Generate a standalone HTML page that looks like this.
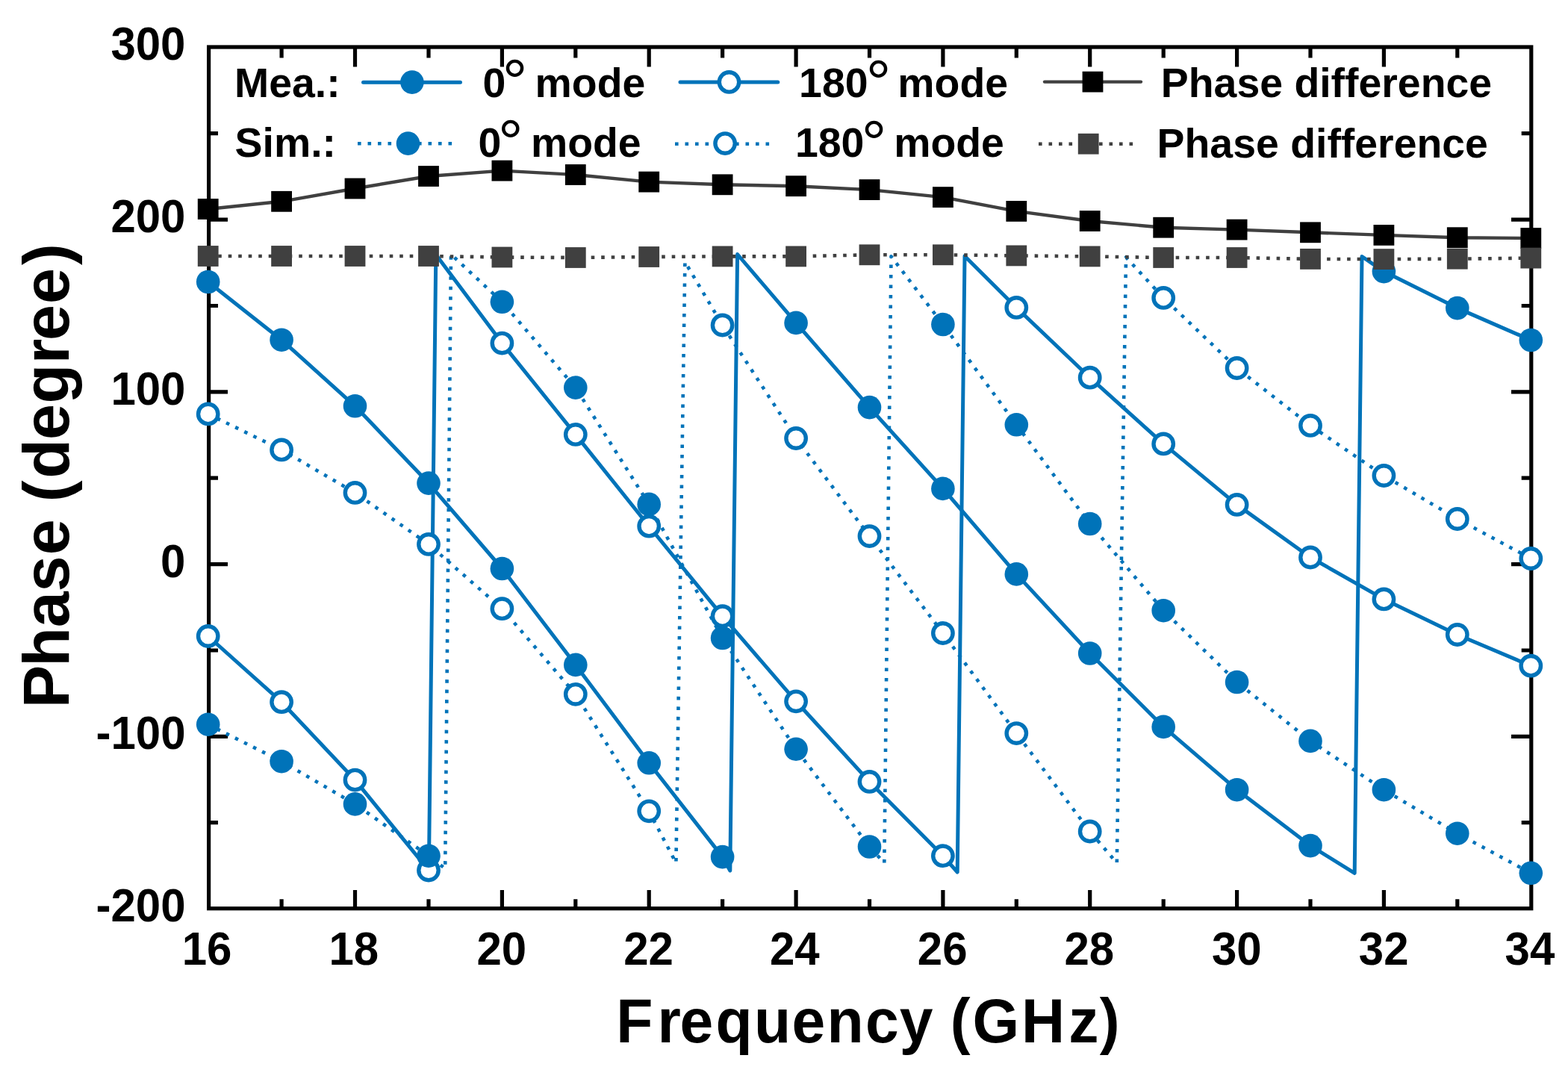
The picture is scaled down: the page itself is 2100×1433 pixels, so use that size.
<!DOCTYPE html>
<html><head><meta charset="utf-8"><title>Phase vs Frequency</title>
<style>html,body{margin:0;padding:0;background:#fff;width:2100px;height:1433px;overflow:hidden}svg{display:block}text{font-variant-ligatures:none}</style>
</head><body>
<svg width="2100" height="1433" viewBox="0 0 2100 1433">
<rect width="2100" height="1433" fill="#fff"/>
<g stroke="#000" stroke-width="5.2" fill="none" stroke-linecap="square">
<rect x="279.6" y="63.0" width="1771.2" height="1153.7" stroke-linejoin="miter"/>
</g>
<path d="M377.1,63.0 V77.4 M377.1,1216.7 V1204.3 M475.5,63.0 V89.5 M475.5,1216.7 V1192.1 M574.0,63.0 V77.4 M574.0,1216.7 V1204.3 M672.4,63.0 V89.5 M672.4,1216.7 V1192.1 M770.8,63.0 V77.4 M770.8,1216.7 V1204.3 M869.2,63.0 V89.5 M869.2,1216.7 V1192.1 M967.6,63.0 V77.4 M967.6,1216.7 V1204.3 M1066.1,63.0 V89.5 M1066.1,1216.7 V1192.1 M1164.5,63.0 V77.4 M1164.5,1216.7 V1204.3 M1262.9,63.0 V89.5 M1262.9,1216.7 V1192.1 M1361.3,63.0 V77.4 M1361.3,1216.7 V1204.3 M1459.7,63.0 V89.5 M1459.7,1216.7 V1192.1 M1558.2,63.0 V77.4 M1558.2,1216.7 V1204.3 M1656.6,63.0 V89.5 M1656.6,1216.7 V1192.1 M1755.0,63.0 V77.4 M1755.0,1216.7 V1204.3 M1853.4,63.0 V89.5 M1853.4,1216.7 V1192.1 M1951.8,63.0 V77.4 M1951.8,1216.7 V1204.3 M279.6,1101.7 H292.0 M2050.8,1101.7 H2037.7 M279.6,986.4 H305.0 M2050.8,986.4 H2024.0 M279.6,871.0 H292.0 M2050.8,871.0 H2037.7 M279.6,755.6 H305.0 M2050.8,755.6 H2024.0 M279.6,640.2 H292.0 M2050.8,640.2 H2037.7 M279.6,524.9 H305.0 M2050.8,524.9 H2024.0 M279.6,409.5 H292.0 M2050.8,409.5 H2037.7 M279.6,294.1 H305.0 M2050.8,294.1 H2024.0 M279.6,178.7 H292.0 M2050.8,178.7 H2037.7" stroke="#000" stroke-width="5.2" fill="none"/>
<g fill="none" stroke-linejoin="round">
<path d="M278.7,377.5 L377.1,455.2 L475.5,543.8 L574.0,647.1 L672.4,761.5 L770.8,890.4 L869.2,1021.8 L967.6,1147.6 L977.8,1166.0 L987.6,340.5 L1066.1,432.4 L1164.5,545.6 L1262.9,654.4 L1361.3,768.9 L1459.7,875.0 L1558.2,973.4 L1656.6,1057.7 L1755.0,1132.6 L1814.2,1169.3 L1824.0,343.5 L1853.4,363.6 L1951.8,412.6 L2050.3,455.5" stroke="#0073B9" stroke-width="5.0"/>
<path d="M278.7,852.0 L377.1,940.2 L475.5,1044.6 L574.0,1165.5 L574.3,1170.0 L583.8,341.0 L672.4,459.6 L770.8,581.9 L869.2,704.7 L967.6,825.2 L1066.1,939.3 L1164.5,1046.9 L1262.9,1146.2 L1282.2,1168.0 L1292.0,343.0 L1361.3,411.9 L1459.7,505.7 L1558.2,594.4 L1656.6,675.9 L1755.0,746.5 L1853.4,802.4 L1951.8,850.0 L2050.3,891.7" stroke="#0073B9" stroke-width="5.0"/>
<path d="M278.7,970.2 L377.1,1019.7 L475.5,1076.9 L574.0,1146.2 L596.2,1163.3 L604.0,340.6 L672.4,404.3 L770.8,519.1 L869.2,675.4 L967.6,854.5 L1066.1,1003.3 L1164.5,1134.0 L1184.3,1155.7 L1193.5,343.4 L1262.9,434.5 L1361.3,568.8 L1459.7,701.5 L1558.2,817.7 L1656.6,913.5 L1755.0,992.4 L1853.4,1057.7 L1951.8,1116.2 L2050.3,1169.3" stroke="#0073B9" stroke-width="4.6" stroke-dasharray="4.6 8.9"/>
<path d="M278.7,554.4 L377.1,602.4 L475.5,659.9 L574.0,728.9 L672.4,815.2 L770.8,929.8 L869.2,1086.3 L905.4,1155.7 L917.4,350.8 L967.6,435.5 L1066.1,587.0 L1164.5,718.1 L1262.9,848.0 L1361.3,982.1 L1459.7,1113.5 L1495.8,1155.7 L1508.0,344.5 L1558.2,398.9 L1656.6,493.0 L1755.0,569.9 L1853.4,637.0 L1951.8,695.0 L2050.3,748.0" stroke="#0073B9" stroke-width="4.6" stroke-dasharray="4.6 8.9"/>
<path d="M278.7,280.0 L377.1,269.8 L475.5,252.5 L574.0,236.0 L672.4,228.6 L770.8,234.0 L869.2,243.6 L967.6,247.3 L1066.1,249.2 L1164.5,254.1 L1262.9,264.1 L1361.3,282.9 L1459.7,296.0 L1558.2,304.7 L1656.6,307.6 L1755.0,311.3 L1853.4,314.9 L1951.8,318.2 L2050.3,319.0" stroke="#404040" stroke-width="4.4"/>
<path d="M278.7,343.0 L377.1,343.0 L475.5,343.0 L574.0,343.0 L672.4,344.5 L770.8,345.0 L869.2,344.0 L967.6,343.4 L1066.1,343.4 L1164.5,341.3 L1262.9,341.3 L1361.3,342.4 L1459.7,343.4 L1558.2,345.0 L1656.6,345.0 L1755.0,346.9 L1853.4,347.1 L1951.8,346.7 L2050.3,345.6" stroke="#404040" stroke-width="4.6" stroke-dasharray="4.6 8.9"/>
</g>
<circle cx="278.7" cy="852.0" r="13.2" fill="#fff" stroke="#0073B9" stroke-width="5.4"/>
<circle cx="377.1" cy="940.2" r="13.2" fill="#fff" stroke="#0073B9" stroke-width="5.4"/>
<circle cx="475.5" cy="1044.6" r="13.2" fill="#fff" stroke="#0073B9" stroke-width="5.4"/>
<circle cx="574.0" cy="1165.5" r="13.2" fill="#fff" stroke="#0073B9" stroke-width="5.4"/>
<circle cx="672.4" cy="459.6" r="13.2" fill="#fff" stroke="#0073B9" stroke-width="5.4"/>
<circle cx="770.8" cy="581.9" r="13.2" fill="#fff" stroke="#0073B9" stroke-width="5.4"/>
<circle cx="869.2" cy="704.7" r="13.2" fill="#fff" stroke="#0073B9" stroke-width="5.4"/>
<circle cx="967.6" cy="825.2" r="13.2" fill="#fff" stroke="#0073B9" stroke-width="5.4"/>
<circle cx="1066.1" cy="939.3" r="13.2" fill="#fff" stroke="#0073B9" stroke-width="5.4"/>
<circle cx="1164.5" cy="1046.9" r="13.2" fill="#fff" stroke="#0073B9" stroke-width="5.4"/>
<circle cx="1262.9" cy="1146.2" r="13.2" fill="#fff" stroke="#0073B9" stroke-width="5.4"/>
<circle cx="1361.3" cy="411.9" r="13.2" fill="#fff" stroke="#0073B9" stroke-width="5.4"/>
<circle cx="1459.7" cy="505.7" r="13.2" fill="#fff" stroke="#0073B9" stroke-width="5.4"/>
<circle cx="1558.2" cy="594.4" r="13.2" fill="#fff" stroke="#0073B9" stroke-width="5.4"/>
<circle cx="1656.6" cy="675.9" r="13.2" fill="#fff" stroke="#0073B9" stroke-width="5.4"/>
<circle cx="1755.0" cy="746.5" r="13.2" fill="#fff" stroke="#0073B9" stroke-width="5.4"/>
<circle cx="1853.4" cy="802.4" r="13.2" fill="#fff" stroke="#0073B9" stroke-width="5.4"/>
<circle cx="1951.8" cy="850.0" r="13.2" fill="#fff" stroke="#0073B9" stroke-width="5.4"/>
<circle cx="2050.3" cy="891.7" r="13.2" fill="#fff" stroke="#0073B9" stroke-width="5.4"/>
<circle cx="278.7" cy="377.5" r="15.8" fill="#0073B9"/>
<circle cx="377.1" cy="455.2" r="15.8" fill="#0073B9"/>
<circle cx="475.5" cy="543.8" r="15.8" fill="#0073B9"/>
<circle cx="574.0" cy="647.1" r="15.8" fill="#0073B9"/>
<circle cx="672.4" cy="761.5" r="15.8" fill="#0073B9"/>
<circle cx="770.8" cy="890.4" r="15.8" fill="#0073B9"/>
<circle cx="869.2" cy="1021.8" r="15.8" fill="#0073B9"/>
<circle cx="967.6" cy="1147.6" r="15.8" fill="#0073B9"/>
<circle cx="1066.1" cy="432.4" r="15.8" fill="#0073B9"/>
<circle cx="1164.5" cy="545.6" r="15.8" fill="#0073B9"/>
<circle cx="1262.9" cy="654.4" r="15.8" fill="#0073B9"/>
<circle cx="1361.3" cy="768.9" r="15.8" fill="#0073B9"/>
<circle cx="1459.7" cy="875.0" r="15.8" fill="#0073B9"/>
<circle cx="1558.2" cy="973.4" r="15.8" fill="#0073B9"/>
<circle cx="1656.6" cy="1057.7" r="15.8" fill="#0073B9"/>
<circle cx="1755.0" cy="1132.6" r="15.8" fill="#0073B9"/>
<circle cx="1853.4" cy="363.6" r="15.8" fill="#0073B9"/>
<circle cx="1951.8" cy="412.6" r="15.8" fill="#0073B9"/>
<circle cx="2050.3" cy="455.5" r="15.8" fill="#0073B9"/>
<circle cx="278.7" cy="554.4" r="13.2" fill="#fff" stroke="#0073B9" stroke-width="5.4"/>
<circle cx="377.1" cy="602.4" r="13.2" fill="#fff" stroke="#0073B9" stroke-width="5.4"/>
<circle cx="475.5" cy="659.9" r="13.2" fill="#fff" stroke="#0073B9" stroke-width="5.4"/>
<circle cx="574.0" cy="728.9" r="13.2" fill="#fff" stroke="#0073B9" stroke-width="5.4"/>
<circle cx="672.4" cy="815.2" r="13.2" fill="#fff" stroke="#0073B9" stroke-width="5.4"/>
<circle cx="770.8" cy="929.8" r="13.2" fill="#fff" stroke="#0073B9" stroke-width="5.4"/>
<circle cx="869.2" cy="1086.3" r="13.2" fill="#fff" stroke="#0073B9" stroke-width="5.4"/>
<circle cx="967.6" cy="435.5" r="13.2" fill="#fff" stroke="#0073B9" stroke-width="5.4"/>
<circle cx="1066.1" cy="587.0" r="13.2" fill="#fff" stroke="#0073B9" stroke-width="5.4"/>
<circle cx="1164.5" cy="718.1" r="13.2" fill="#fff" stroke="#0073B9" stroke-width="5.4"/>
<circle cx="1262.9" cy="848.0" r="13.2" fill="#fff" stroke="#0073B9" stroke-width="5.4"/>
<circle cx="1361.3" cy="982.1" r="13.2" fill="#fff" stroke="#0073B9" stroke-width="5.4"/>
<circle cx="1459.7" cy="1113.5" r="13.2" fill="#fff" stroke="#0073B9" stroke-width="5.4"/>
<circle cx="1558.2" cy="398.9" r="13.2" fill="#fff" stroke="#0073B9" stroke-width="5.4"/>
<circle cx="1656.6" cy="493.0" r="13.2" fill="#fff" stroke="#0073B9" stroke-width="5.4"/>
<circle cx="1755.0" cy="569.9" r="13.2" fill="#fff" stroke="#0073B9" stroke-width="5.4"/>
<circle cx="1853.4" cy="637.0" r="13.2" fill="#fff" stroke="#0073B9" stroke-width="5.4"/>
<circle cx="1951.8" cy="695.0" r="13.2" fill="#fff" stroke="#0073B9" stroke-width="5.4"/>
<circle cx="2050.3" cy="748.0" r="13.2" fill="#fff" stroke="#0073B9" stroke-width="5.4"/>
<circle cx="278.7" cy="970.2" r="15.8" fill="#0073B9"/>
<circle cx="377.1" cy="1019.7" r="15.8" fill="#0073B9"/>
<circle cx="475.5" cy="1076.9" r="15.8" fill="#0073B9"/>
<circle cx="574.0" cy="1146.2" r="15.8" fill="#0073B9"/>
<circle cx="672.4" cy="404.3" r="15.8" fill="#0073B9"/>
<circle cx="770.8" cy="519.1" r="15.8" fill="#0073B9"/>
<circle cx="869.2" cy="675.4" r="15.8" fill="#0073B9"/>
<circle cx="967.6" cy="854.5" r="15.8" fill="#0073B9"/>
<circle cx="1066.1" cy="1003.3" r="15.8" fill="#0073B9"/>
<circle cx="1164.5" cy="1134.0" r="15.8" fill="#0073B9"/>
<circle cx="1262.9" cy="434.5" r="15.8" fill="#0073B9"/>
<circle cx="1361.3" cy="568.8" r="15.8" fill="#0073B9"/>
<circle cx="1459.7" cy="701.5" r="15.8" fill="#0073B9"/>
<circle cx="1558.2" cy="817.7" r="15.8" fill="#0073B9"/>
<circle cx="1656.6" cy="913.5" r="15.8" fill="#0073B9"/>
<circle cx="1755.0" cy="992.4" r="15.8" fill="#0073B9"/>
<circle cx="1853.4" cy="1057.7" r="15.8" fill="#0073B9"/>
<circle cx="1951.8" cy="1116.2" r="15.8" fill="#0073B9"/>
<circle cx="2050.3" cy="1169.3" r="15.8" fill="#0073B9"/>
<rect x="264.8" y="266.1" width="27.8" height="27.8" fill="#000"/>
<rect x="363.2" y="255.9" width="27.8" height="27.8" fill="#000"/>
<rect x="461.6" y="238.6" width="27.8" height="27.8" fill="#000"/>
<rect x="560.1" y="222.1" width="27.8" height="27.8" fill="#000"/>
<rect x="658.5" y="214.7" width="27.8" height="27.8" fill="#000"/>
<rect x="756.9" y="220.1" width="27.8" height="27.8" fill="#000"/>
<rect x="855.3" y="229.7" width="27.8" height="27.8" fill="#000"/>
<rect x="953.7" y="233.4" width="27.8" height="27.8" fill="#000"/>
<rect x="1052.2" y="235.3" width="27.8" height="27.8" fill="#000"/>
<rect x="1150.6" y="240.2" width="27.8" height="27.8" fill="#000"/>
<rect x="1249.0" y="250.2" width="27.8" height="27.8" fill="#000"/>
<rect x="1347.4" y="269.0" width="27.8" height="27.8" fill="#000"/>
<rect x="1445.8" y="282.1" width="27.8" height="27.8" fill="#000"/>
<rect x="1544.3" y="290.8" width="27.8" height="27.8" fill="#000"/>
<rect x="1642.7" y="293.7" width="27.8" height="27.8" fill="#000"/>
<rect x="1741.1" y="297.4" width="27.8" height="27.8" fill="#000"/>
<rect x="1839.5" y="301.0" width="27.8" height="27.8" fill="#000"/>
<rect x="1937.9" y="304.3" width="27.8" height="27.8" fill="#000"/>
<rect x="2036.4" y="305.1" width="27.8" height="27.8" fill="#000"/>
<rect x="264.8" y="329.1" width="27.8" height="27.8" fill="#404040"/>
<rect x="363.2" y="329.1" width="27.8" height="27.8" fill="#404040"/>
<rect x="461.6" y="329.1" width="27.8" height="27.8" fill="#404040"/>
<rect x="560.1" y="329.1" width="27.8" height="27.8" fill="#404040"/>
<rect x="658.5" y="330.6" width="27.8" height="27.8" fill="#404040"/>
<rect x="756.9" y="331.1" width="27.8" height="27.8" fill="#404040"/>
<rect x="855.3" y="330.1" width="27.8" height="27.8" fill="#404040"/>
<rect x="953.7" y="329.5" width="27.8" height="27.8" fill="#404040"/>
<rect x="1052.2" y="329.5" width="27.8" height="27.8" fill="#404040"/>
<rect x="1150.6" y="327.4" width="27.8" height="27.8" fill="#404040"/>
<rect x="1249.0" y="327.4" width="27.8" height="27.8" fill="#404040"/>
<rect x="1347.4" y="328.5" width="27.8" height="27.8" fill="#404040"/>
<rect x="1445.8" y="329.5" width="27.8" height="27.8" fill="#404040"/>
<rect x="1544.3" y="331.1" width="27.8" height="27.8" fill="#404040"/>
<rect x="1642.7" y="331.1" width="27.8" height="27.8" fill="#404040"/>
<rect x="1741.1" y="333.0" width="27.8" height="27.8" fill="#404040"/>
<rect x="1839.5" y="333.2" width="27.8" height="27.8" fill="#404040"/>
<rect x="1937.9" y="332.8" width="27.8" height="27.8" fill="#404040"/>
<rect x="2036.4" y="331.7" width="27.8" height="27.8" fill="#404040"/>
<g font-family="'Liberation Sans', Arial, Helvetica, sans-serif" font-weight="bold" fill="#000">
<text transform="translate(248.5,1234.1) scale(1,1.045)" font-size="60" text-anchor="end">-200</text>
<text transform="translate(248.5,1003.4) scale(1,1.045)" font-size="60" text-anchor="end">-100</text>
<text transform="translate(248.5,772.6) scale(1,1.045)" font-size="60" text-anchor="end">0</text>
<text transform="translate(248.5,541.9) scale(1,1.045)" font-size="60" text-anchor="end">100</text>
<text transform="translate(248.5,311.1) scale(1,1.045)" font-size="60" text-anchor="end">200</text>
<text transform="translate(248.5,80.4) scale(1,1.045)" font-size="60" text-anchor="end">300</text>
<text transform="translate(243.7,1292.3) scale(1,1.045)" font-size="60">16</text>
<text transform="translate(440.4,1292.3) scale(1,1.045)" font-size="60">18</text>
<text transform="translate(638.4,1292.3) scale(1,1.045)" font-size="60">20</text>
<text transform="translate(835.2,1292.3) scale(1,1.045)" font-size="60">22</text>
<text transform="translate(1031.0,1292.3) scale(1,1.045)" font-size="60">24</text>
<text transform="translate(1228.8,1292.3) scale(1,1.045)" font-size="60">26</text>
<text transform="translate(1425.5,1292.3) scale(1,1.045)" font-size="60">28</text>
<text transform="translate(1623.0,1292.3) scale(1,1.045)" font-size="60">30</text>
<text transform="translate(1819.8,1292.3) scale(1,1.045)" font-size="60">32</text>
<text transform="translate(2015.6,1292.3) scale(1,1.045)" font-size="60">34</text>
<text transform="translate(0,1396) scale(1,1.035)" x="825.3 880.4 910.4 958.4 1010.1 1060.5 1107.6 1159.1 1204.7 1249.4 1272.7 1302.4 1368.1 1431.2 1472.8" y="0" font-size="80.5">Frequency (GHz)</text>
<text transform="translate(92.4,942) rotate(-90) scale(1,1.02)" x="-6.3 49.3 101.8 149.6 198.7 246.7 269.8 301.2 352.9 401.4 454.7 486.0 534.9 587.1" y="0" font-size="86.3">Phase (degree)</text>
<text x="314.1" y="129.8" font-size="55.4">Mea.:</text>
<text x="314.6" y="210.2" font-size="55.4">Sim.:</text>
<text x="646.6" y="129.8" font-size="55.4">0</text>
<text x="716.6" y="129.8" font-size="55.4">mode</text>
<text x="640.6" y="210.2" font-size="55.4">0</text>
<text x="710.9" y="210.2" font-size="55.4">mode</text>
<text x="1070.1" y="129.8" font-size="55.4">180</text>
<text x="1202.3" y="129.8" font-size="55.4">mode</text>
<text x="1065.0" y="210.2" font-size="55.4">180</text>
<text x="1197.2" y="210.2" font-size="55.4">mode</text>
<text x="1554.8" y="129.6" font-size="55.4">Phase difference</text>
<text x="1549.6" y="210.6" font-size="55.4">Phase difference</text>
</g>
<text x="672.7" y="138.3" font-size="84" font-family="'Liberation Sans', Arial, Helvetica, sans-serif" fill="#000">°</text>
<text x="1159.7" y="138.8" font-size="84" font-family="'Liberation Sans', Arial, Helvetica, sans-serif" fill="#000">°</text>
<text x="667.0" y="219.2" font-size="84" font-family="'Liberation Sans', Arial, Helvetica, sans-serif" fill="#000">°</text>
<text x="1153.7" y="219.9" font-size="84" font-family="'Liberation Sans', Arial, Helvetica, sans-serif" fill="#000">°</text>
<path d="M486.5,110.3 H616.5 M911,109.9 H1041.8" stroke="#0073B9" stroke-width="5.0" stroke-linecap="round"/>
<path d="M479,192.3 H607 M904,192.7 H1031" stroke="#0073B9" stroke-width="4.6" stroke-dasharray="4.6 8.9"/>
<path d="M1399,109.6 H1528" stroke="#404040" stroke-width="4.4" stroke-linecap="round"/>
<path d="M1391,192.8 H1519" stroke="#404040" stroke-width="4.6" stroke-dasharray="4.6 8.9"/>
<circle cx="551.9" cy="110.1" r="15.8" fill="#0073B9"/>
<circle cx="976.5" cy="109.9" r="13.2" fill="#fff" stroke="#0073B9" stroke-width="5.4"/>
<rect x="1449.6" y="95.7" width="27.8" height="27.8" fill="#000"/>
<circle cx="546.5" cy="192.1" r="15.8" fill="#0073B9"/>
<circle cx="971.1" cy="192.1" r="13.2" fill="#fff" stroke="#0073B9" stroke-width="5.4"/>
<rect x="1443.8" y="178.8" width="27.8" height="27.8" fill="#404040"/>
</svg>
</body></html>
